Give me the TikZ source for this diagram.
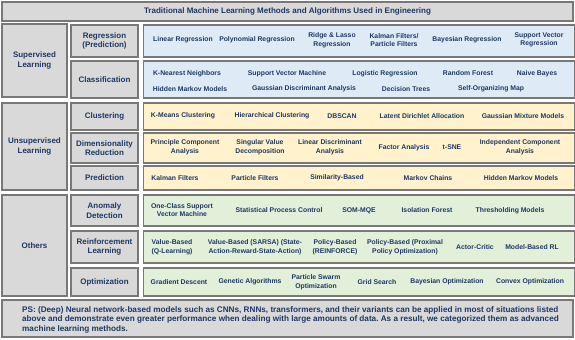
\documentclass[tikz,border=0pt]{standalone}
\usepackage{fontspec}
\setmainfont{Liberation Sans}
\usepackage{tikz}
\usetikzlibrary{positioning}
\frenchspacing
\definecolor{boxline}{RGB}{120,120,120}
\definecolor{boxgrey}{RGB}{217,217,217}
\definecolor{rowblue}{RGB}{222,235,247}
\definecolor{rowyellow}{RGB}{255,242,204}
\definecolor{rowgreen}{RGB}{226,240,217}
\definecolor{navy}{RGB}{31,56,100}
\tikzset{
  greybox/.style={
    draw=boxline, fill=boxgrey, rectangle, line width=1.2bp,
    inner sep=0pt, text=navy, align=center,
    font=\fontsize{8}{9.4}\selectfont\bfseries
  },
  rowbox/.style={
    draw=boxline, rectangle, line width=1.2bp, inner sep=0pt
  },
  item/.style={
    text=navy, align=center, inner sep=1pt,
    font=\fontsize{6.85}{8.6}\selectfont\bfseries
  },
}

\begin{document}
\begin{tikzpicture}[x=1bp, y=-1bp]

  \useasboundingbox (0,0) rectangle (575,339);

  %%% Title %%%
  \node[greybox, minimum width=571bp, minimum height=19bp,
        font=\fontsize{8.05}{9}\selectfont\bfseries] (title) at (287.5,11.5)
    {Traditional Machine Learning Methods and Algorithms Used in Engineering};

  %%% Groups (left column) %%%
  \node[greybox, minimum width=65bp, minimum height=73bp] (sup) at (34.5,60.5)
    {Supervised\\Learning};
  \node[greybox, minimum width=65bp, minimum height=87bp] (uns) at (34.5,146.5)
    {Unsupervised\\Learning};
  \node[greybox, minimum width=65bp, minimum height=101bp] (oth) at (34.5,245.5)
    {Others};

  %%% Categories %%%
  \node[greybox, minimum width=67bp, minimum height=32bp] (reg) at (104.5,41)
    {Regression\\(Prediction)};
  \node[greybox, minimum width=67bp, minimum height=37bp] (cls) at (104.5,79.5)
    {Classification};
  \node[greybox, minimum width=67bp, minimum height=27bp] (clu) at (104.5,116.5)
    {Clustering};
  \node[greybox, minimum width=67bp, minimum height=30bp] (dim) at (104.5,148)
    {Dimensionality\\Reduction};
  \node[greybox, minimum width=67bp, minimum height=24bp] (pre) at (104.5,178)
    {Prediction};
  \node[greybox, minimum width=67bp, minimum height=31bp] (ano) at (104.5,210.5)
    {Anomaly\\Detection};
  \node[greybox, minimum width=67bp, minimum height=32bp] (rei) at (104.5,247)
    {Reinforcement\\Learning};
  \node[greybox, minimum width=67bp, minimum height=28bp] (opt) at (104.5,282)
    {Optimization};

  %%% Method rows %%%
  \node[rowbox, fill=rowblue, minimum width=431bp, minimum height=32bp, right=4bp of reg] (regrow) {};
  \node[rowbox, fill=rowblue, minimum width=431bp, minimum height=37bp, right=4bp of cls] (clsrow) {};
  \node[rowbox, fill=rowyellow, minimum width=431bp, minimum height=27bp, right=4bp of clu] (clurow) {};
  \node[rowbox, fill=rowyellow, minimum width=431bp, minimum height=30bp, right=4bp of dim] (dimrow) {};
  \node[rowbox, fill=rowyellow, minimum width=431bp, minimum height=24bp, right=4bp of pre] (prerow) {};
  \node[rowbox, fill=rowgreen, minimum width=431bp, minimum height=31bp, right=4bp of ano] (anorow) {};
  \node[rowbox, fill=rowgreen, minimum width=431bp, minimum height=32bp, right=4bp of rei] (reirow) {};
  \node[rowbox, fill=rowgreen, minimum width=431bp, minimum height=28bp, right=4bp of opt] (optrow) {};

  %%% Regression %%%
  \node[item] (reg1) at (183,40) {Linear Regression};
  \node[item] (reg2) at (257,40) {Polynomial Regression};
  \node[item] (reg3) at (332,40) {Ridge \& Lasso\\Regression};
  \node[item] (reg4) at (394,40) {Kalman Filters/\\Particle Filters};
  \node[item] (reg5) at (467,40) {Bayesian Regression};
  \node[item] (reg6) at (539,40) {Support Vector\\Regression};

  %%% Classification %%%
  \node[item] (cls1) at (187,73.5) {K-Nearest Neighbors};
  \node[item] (cls2) at (287,73.5) {Support Vector Machine};
  \node[item] (cls3) at (385,73.5) {Logistic Regression};
  \node[item] (cls4) at (468,73.5) {Random Forest};
  \node[item] (cls5) at (537,73.5) {Naive Bayes};
  \node[item] (cls6) at (190,89) {Hidden Markov Models};
  \node[item] (cls7) at (304,89) {Gaussian Discriminant Analysis};
  \node[item] (cls8) at (406,89) {Decision Trees};
  \node[item] (cls9) at (491,89) {Self-Organizing Map};

  %%% Clustering %%%
  \node[item] (clu1) at (183,116) {K-Means Clustering};
  \node[item] (clu2) at (272,116) {Hierarchical Clustering};
  \node[item] (clu3) at (342,116) {DBSCAN};
  \node[item] (clu4) at (422,116) {Latent Dirichlet Allocation};
  \node[item] (clu5) at (523,116) {Gaussian Mixture Models};

  %%% Dimensionality reduction %%%
  \node[item] (dim1) at (185,147.5) {Principle Component\\Analysis};
  \node[item] (dim2) at (260,147.5) {Singular Value\\Decomposition};
  \node[item] (dim3) at (330,147.5) {Linear Discriminant\\Analysis};
  \node[item] (dim4) at (404,147.5) {Factor Analysis};
  \node[item] (dim5) at (452,147.5) {t-SNE};
  \node[item] (dim6) at (520,147.5) {Independent Component\\Analysis};

  %%% Prediction %%%
  \node[item] (pre1) at (175,178) {Kalman Filters};
  \node[item] (pre2) at (255,178) {Particle Filters};
  \node[item] (pre3) at (337,178) {Similarity-Based};
  \node[item] (pre4) at (428,178) {Markov Chains};
  \node[item] (pre5) at (521,178) {Hidden Markov Models};

  %%% Anomaly detection %%%
  \node[item] (ano1) at (182,210) {One-Class Support\\Vector Machine};
  \node[item] (ano2) at (279,210.5) {Statistical Process Control};
  \node[item] (ano3) at (359,210.5) {SOM-MQE};
  \node[item] (ano4) at (427,210.5) {Isolation Forest};
  \node[item] (ano5) at (510,210.5) {Thresholding Models};

  %%% Reinforcement learning %%%
  \node[item] (rei1) at (172,247) {Value-Based\\(Q-Learning)};
  \node[item] (rei2) at (255,247) {Value-Based (SARSA) (State-\\Action-Reward-State-Action)};
  \node[item] (rei3) at (335,247) {Policy-Based\\(REINFORCE)};
  \node[item] (rei4) at (405,247) {Policy-Based (Proximal\\Policy Optimization)};
  \node[item] (rei5) at (475,247) {Actor-Critic};
  \node[item] (rei6) at (532,247) {Model-Based RL};

  %%% Optimization %%%
  \node[item] (opt1) at (179,282) {Gradient Descent};
  \node[item] (opt2) at (250,282) {Genetic Algorithms};
  \node[item] (opt3) at (316,282) {Particle Swarm\\Optimization};
  \node[item] (opt4) at (377,282) {Grid Search};
  \node[item] (opt5) at (447,282) {Bayesian Optimization};
  \node[item] (opt6) at (530,282) {Convex Optimization};

  %%% Note at the bottom %%%
  \node[greybox, minimum width=571bp, minimum height=37bp] (ps) at (287.5,318.5) {};
  \node[text=navy, align=left, inner sep=0pt, anchor=west,
        font=\fontsize{8.2}{9.8}\selectfont\bfseries] (pstext) at (22,319.8)
    {PS: (Deep) Neural network-based models such as CNNs, RNNs, transformers, and their variants can be applied in most of situations listed\\
     above and demonstrate even greater performance when dealing with large amounts of data. As a result, we categorized them as advanced\\
     machine learning methods.};

\end{tikzpicture}
\end{document}
